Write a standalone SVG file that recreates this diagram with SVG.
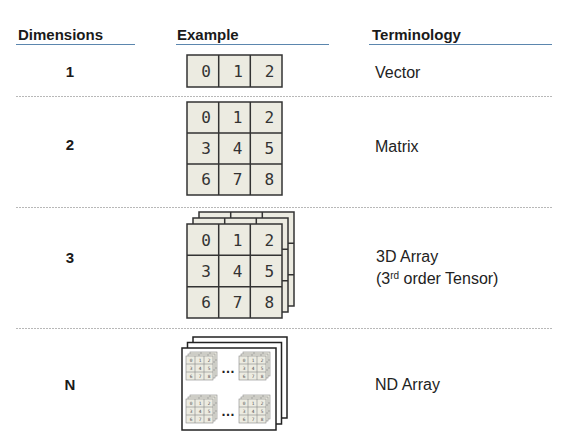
<svg xmlns="http://www.w3.org/2000/svg" xmlns:xlink="http://www.w3.org/1999/xlink" width="563" height="448" viewBox="0 0 563 448">
<style>
.hdr{font-family:"Liberation Sans",Arial,sans-serif;font-weight:bold;font-size:15px;fill:#1a1a1a}
.dim{font-family:"Liberation Sans",Arial,sans-serif;font-weight:bold;font-size:15px;fill:#1a1a1a;text-anchor:middle}
.term{font-family:"Liberation Sans",Arial,sans-serif;font-size:16px;fill:#222}
.ul{stroke:#5b86ae;stroke-width:1.2}
.sep{stroke:#b8b8b8;stroke-width:1;stroke-dasharray:2 1}
.box{fill:#ecebe1;stroke:#333;stroke-width:1.5}
.ln{stroke:#333;stroke-width:1.5;fill:none}
.dg{font-family:"DejaVu Sans Mono","Liberation Mono",monospace;font-size:16px;fill:#333;text-anchor:middle}
.page{fill:#fff;stroke:#222;stroke-width:1.5}
.mbox{fill:#ecebe1;stroke:#888;stroke-width:0.6}
.mln{stroke:#888;stroke-width:0.6}
.mdg{font-family:"DejaVu Sans Mono",monospace;font-size:4.5px;fill:#555;text-anchor:middle}
.dots{font-family:"Liberation Sans",Arial,sans-serif;font-weight:bold;font-size:14px;fill:#222;text-anchor:middle}
</style>
<defs>
<g id="mini">
<rect class="mbox" x="4" y="-4" width="27" height="24"/>
<rect class="mbox" x="2" y="-2" width="27" height="24"/>
<rect class="mbox" x="0" y="0" width="27" height="24"/>
<path class="mln" d="M9 0V24M18 0V24M0 8H27M0 16H27M13 -2V0M22 -2V0M29 6H27M29 14H27M15 -4V-2M24 -4V-2M31 4H29M31 12H29"/>
<text class="mdg" x="5" y="6">0</text><text class="mdg" x="14" y="6">1</text><text class="mdg" x="23" y="6">2</text>
<text class="mdg" x="5" y="14">3</text><text class="mdg" x="14" y="14">4</text><text class="mdg" x="23" y="14">5</text>
<text class="mdg" x="5" y="22">6</text><text class="mdg" x="14" y="22">7</text><text class="mdg" x="23" y="22">8</text>
</g>
</defs>
<rect width="563" height="448" fill="#fff"/>
<g id="header">
<text class="hdr" x="18" y="40">Dimensions</text>
<text class="hdr" x="177" y="40">Example</text>
<text class="hdr" x="372" y="40">Terminology</text>
<line class="ul" x1="16" y1="44.5" x2="135" y2="44.5"/>
<line class="ul" x1="176" y1="44.5" x2="329" y2="44.5"/>
<line class="ul" x1="369" y1="44.5" x2="552" y2="44.5"/>
</g>
<g id="separators">
<line class="sep" x1="16" y1="96.5" x2="552" y2="96.5"/>
<line class="sep" x1="16" y1="207.5" x2="552" y2="207.5"/>
<line class="sep" x1="16" y1="328.5" x2="552" y2="328.5"/>
</g>
<g id="row1">
<text class="dim" x="70" y="77">1</text>
<rect class="box" x="187" y="55" width="95" height="32"/>
<path class="ln" d="M218.7 55V87M250.3 55V87"/>
<text class="dg" x="206" y="76.8">0</text><text class="dg" x="238" y="76.8">1</text><text class="dg" x="269.5" y="76.8">2</text>
<text class="term" x="375" y="77.5">Vector</text>
</g>
<g id="row2">
<text class="dim" x="70" y="150">2</text>
<rect class="box" x="187" y="102" width="95" height="93"/>
<path class="ln" d="M218.7 102V195M250.3 102V195M187 133H282M187 164H282"/>
<text class="dg" x="206" y="123.3">0</text><text class="dg" x="237.5" y="123.3">1</text><text class="dg" x="269.2" y="123.3">2</text>
<text class="dg" x="206" y="154.3">3</text><text class="dg" x="237.5" y="154.3">4</text><text class="dg" x="269.2" y="154.3">5</text>
<text class="dg" x="206" y="185.3">6</text><text class="dg" x="237.5" y="185.3">7</text><text class="dg" x="269.2" y="185.3">8</text>
<text class="term" x="375" y="152">Matrix</text>
</g>
<g id="row3">
<text class="dim" x="70" y="263">3</text>
<rect class="box" x="199" y="212" width="95" height="94"/>
<path class="ln" d="M230.7 212V306M262.3 212V306M199 243.3H294M199 274.7H294"/>
<rect class="box" x="193" y="218" width="95" height="94"/>
<path class="ln" d="M224.7 218V312M256.3 218V312M193 249.3H288M193 280.7H288"/>
<rect class="box" x="187" y="224" width="95" height="94"/>
<path class="ln" d="M218.7 224V318M250.3 224V318M187 255.3H282M187 286.7H282"/>
<text class="dg" x="206" y="245.5">0</text><text class="dg" x="237.5" y="245.5">1</text><text class="dg" x="269.2" y="245.5">2</text>
<text class="dg" x="206" y="276.8">3</text><text class="dg" x="237.5" y="276.8">4</text><text class="dg" x="269.2" y="276.8">5</text>
<text class="dg" x="206" y="308.1">6</text><text class="dg" x="237.5" y="308.1">7</text><text class="dg" x="269.2" y="308.1">8</text>
<text class="term" x="376" y="262">3D Array</text>
<text class="term" x="376" y="284">(3<tspan font-size="10" dy="-5">rd</tspan><tspan dy="5"> order Tensor)</tspan></text>
</g>
<g id="row4">
<text class="dim" x="70" y="390">N</text>
<rect class="page" x="193" y="337" width="94" height="81"/>
<rect class="page" x="187.5" y="342.5" width="94" height="81.5"/>
<rect class="page" x="182" y="348" width="94" height="82"/>
<use xlink:href="#mini" x="186" y="356"/>
<use xlink:href="#mini" x="239" y="356"/>
<use xlink:href="#mini" x="186" y="399"/>
<use xlink:href="#mini" x="239" y="399"/>
<text class="dots" x="228" y="373">…</text>
<text class="dots" x="228" y="416">…</text>
<text class="term" x="375" y="390">ND Array</text>
</g>
</svg>
